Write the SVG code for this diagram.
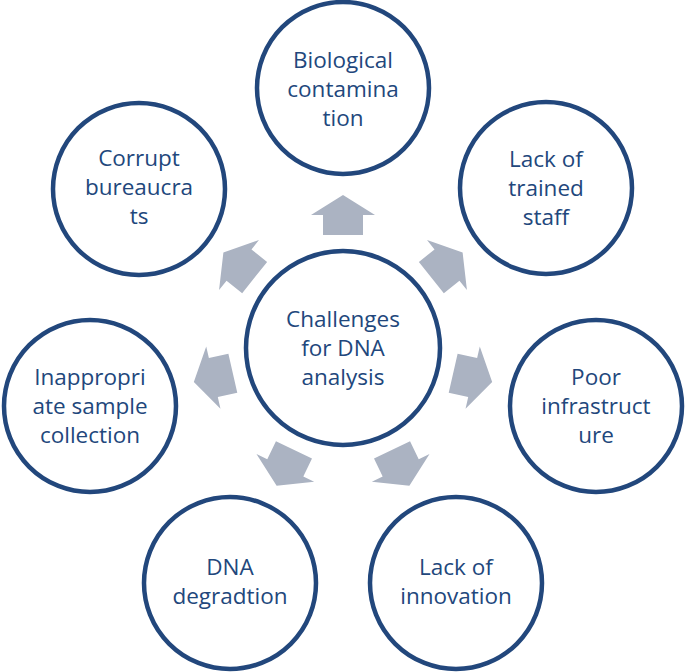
<svg xmlns="http://www.w3.org/2000/svg" width="685" height="672" viewBox="0 0 685 672">
<defs>
<style>
.c{fill:#fff;stroke:#22477c;stroke-width:4.5}
.t{font-family:"Open Sans","Liberation Sans",sans-serif;font-size:22.5px;fill:#22477c;text-anchor:middle}
.a{fill:#abb3c2}
</style>
<polygon id="arr" class="a" points="-20,-113 -20,-133 -32,-133 0,-153 32,-133 20,-133 20,-113"/>
</defs>
<rect width="685" height="672" fill="#fff"/>
<g id="connectors" transform="translate(343,348)">
<use href="#arr"/>
<use href="#arr" transform="rotate(51.43)"/>
<use href="#arr" transform="rotate(102.86)"/>
<use href="#arr" transform="rotate(154.29)"/>
<use href="#arr" transform="rotate(205.71)"/>
<use href="#arr" transform="rotate(257.14)"/>
<use href="#arr" transform="rotate(308.57)"/>
</g>
<g id="center">
<circle class="c" cx="343" cy="348" r="97"/>
<text class="t" x="343" y="327">Challenges</text>
<text class="t" x="343" y="356">for DNA</text>
<text class="t" x="343" y="385">analysis</text>
</g>
<g id="top">
<circle class="c" cx="343" cy="88" r="86"/>
<text class="t" x="343" y="68">Biological</text>
<text class="t" x="343" y="97">contamina</text>
<text class="t" x="343" y="126">tion</text>
</g>
<g id="upper-right">
<circle class="c" cx="546" cy="188" r="86"/>
<text class="t" x="546" y="167">Lack of</text>
<text class="t" x="546" y="196">trained</text>
<text class="t" x="546" y="225">staff</text>
</g>
<g id="right">
<circle class="c" cx="596" cy="406" r="86"/>
<text class="t" x="596" y="385">Poor</text>
<text class="t" x="596" y="414">infrastruct</text>
<text class="t" x="596" y="443">ure</text>
</g>
<g id="lower-right">
<circle class="c" cx="456" cy="583" r="86"/>
<text class="t" x="456" y="575">Lack of</text>
<text class="t" x="456" y="604">innovation</text>
</g>
<g id="lower-left">
<circle class="c" cx="230" cy="583" r="86"/>
<text class="t" x="230" y="575">DNA</text>
<text class="t" x="230" y="604">degradtion</text>
</g>
<g id="left">
<circle class="c" cx="90" cy="406" r="86"/>
<text class="t" x="90" y="385">Inappropri</text>
<text class="t" x="90" y="414">ate sample</text>
<text class="t" x="90" y="443">collection</text>
</g>
<g id="upper-left">
<circle class="c" cx="139" cy="189" r="86"/>
<text class="t" x="139" y="166">Corrupt</text>
<text class="t" x="139" y="195">bureaucra</text>
<text class="t" x="139" y="224">ts</text>
</g>
</svg>
